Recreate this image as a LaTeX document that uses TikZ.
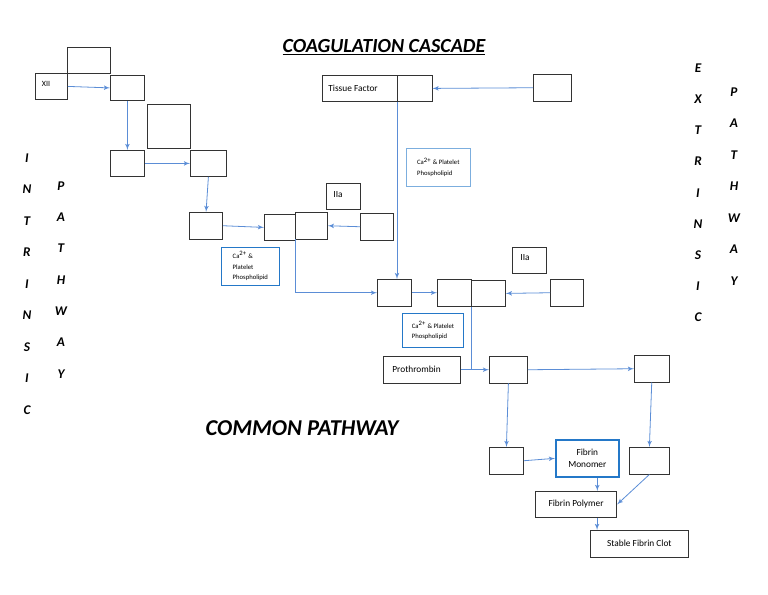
\documentclass[tikz,border=0pt]{standalone}
\usepackage{fontspec}
\setmainfont{Carlito}
\usepackage{tikz}
\usetikzlibrary{arrows,positioning,calc}
\definecolor{linkblue}{RGB}{91,141,214}
\definecolor{boxblue}{RGB}{36,120,200}

\begin{document}
\begin{tikzpicture}[x=0.75pt,y=-0.75pt,
        box/.style={draw=black!80, line width=0.6pt, rectangle, inner sep=0pt},
        ca/.style={draw=boxblue, line width=0.5pt, rectangle, inner sep=2pt, font=\fontsize{5}{8}\selectfont, align=left},
        link/.style={draw=linkblue, line width=0.6pt, -latex'},
        letter/.style={font=\bfseries\itshape\fontsize{10}{10}\selectfont}
    ]
    \useasboundingbox (0,0) rectangle (768,594);
    % title and pathway letters
    \node[font=\bfseries\itshape\fontsize{15}{15}\selectfont] (title) at (384,47) {\underline{COAGULATION CASCADE}};
    \node[font=\bfseries\itshape\fontsize{17}{17}\selectfont] (common) at (302,428) {COMMON PATHWAY};
    \foreach \l [count=\i] in {I,N,T,R,I,N,S,I,C}
        \node[letter] at (27,{158+(\i-1)*31.5}) {\l};
    \foreach \l [count=\i] in {P,A,T,H,W,A,Y}
        \node[letter] at (61,{186+(\i-1)*31.3}) {\l};
    \foreach \l [count=\i] in {E,X,T,R,I,N,S,I,C}
        \node[letter] at (698,{68+(\i-1)*31.2}) {\l};
    \foreach \l [count=\i] in {P,A,T,H,W,A,Y}
        \node[letter] at (734,{92+(\i-1)*31.5}) {\l};
    % intrinsic boxes
    \draw[box] (67,47) rectangle (110,73);
    \node[box, minimum width=24pt, minimum height=19.5pt, anchor=north west] (xii) at (35,73) {};
    \node[font=\fontsize{6}{6}\selectfont] at (46,84) {XII};
    \node[box, minimum width=25.5pt, minimum height=18.75pt, anchor=north west] (f11) at (110,75) {};
    \node[box, minimum width=32pt, minimum height=33pt, anchor=north west] (hk) at (147,104) {};
    \node[box, minimum width=25.5pt, minimum height=19.5pt, anchor=north west] (f9) at (110,150) {};
    \node[box, minimum width=27pt, minimum height=19.5pt, anchor=north west] (f9a) at (190,150) {};
    \node[box, minimum width=25pt, minimum height=20pt, anchor=north west] (f8) at (189,212) {};
    \node[box, minimum width=23pt, minimum height=19.5pt, anchor=north west] (f10i) at (264,214) {};
    \node[box, minimum width=24pt, minimum height=20pt, anchor=north west] (f8a) at (295,212) {};
    \node[box, minimum width=25.5pt, minimum height=19.5pt, anchor=north west] (iia1) at (326,183) {};
    \node[font=\fontsize{7}{7}\selectfont] at (338,195) {IIa};
    \node[box, minimum width=25pt, minimum height=20pt, anchor=north west] (f8b) at (360,213) {};
    \node[ca, anchor=north west, minimum width=43.5pt, minimum height=28.5pt] (ca1) at (221,247) {Ca\textsuperscript{2+} \&\\Platelet\\Phospholipid};
    % extrinsic boxes
    \node[box, minimum width=56pt, minimum height=19.5pt, anchor=north west, font=\fontsize{7}{7}\selectfont] (tf) at (322,75) {\hspace*{-10pt}Tissue Factor};
    \node[box, minimum width=26pt, minimum height=19.5pt, anchor=north west] (f7) at (397,75) {};
    \node[box, minimum width=28.5pt, minimum height=20pt, anchor=north west] (f7b) at (533,74) {};
    \node[ca, anchor=north west, minimum width=48pt, minimum height=28.5pt, draw=boxblue!60] (ca2) at (406,148) {Ca\textsuperscript{2+} \& Platelet\\Phospholipid};
    % common boxes
    \node[box, minimum width=25.5pt, minimum height=20pt, anchor=north west] (f10) at (377,279) {};
    \node[box, minimum width=25.5pt, minimum height=20pt, anchor=north west] (f10a) at (437,279) {};
    \node[box, minimum width=25.5pt, minimum height=19.5pt, anchor=north west] (f5) at (471,280) {};
    \node[box, minimum width=25pt, minimum height=20pt, anchor=north west] (f5b) at (550,279) {};
    \node[box, minimum width=25.5pt, minimum height=19.5pt, anchor=north west] (iia2) at (512,247) {};
    \node[font=\fontsize{7}{7}\selectfont] at (525,258) {IIa};
    \node[ca, anchor=north west, minimum width=45.75pt, minimum height=25.5pt, line width=0.8pt] (ca3) at (402,313) {Ca\textsuperscript{2+} \& Platelet\\Phospholipid};
    \node[box, minimum width=57.75pt, minimum height=20pt, anchor=north west, font=\fontsize{7}{7}\selectfont] (pt) at (383,356) {\hspace*{-8pt}Prothrombin};
    \node[box, minimum width=28.5pt, minimum height=20pt, anchor=north west] (thr) at (489,356) {};
    \node[box, minimum width=26pt, minimum height=20pt, anchor=north west] (f13) at (634,355) {};
    \node[box, minimum width=25.5pt, minimum height=20pt, anchor=north west] (fg) at (489,447) {};
    \node[box, draw=boxblue, line width=1.5pt, minimum width=47pt, minimum height=27.5pt, anchor=north west, font=\fontsize{7}{9}\selectfont, align=center] (mono) at (555,439) {Fibrin\\Monomer};
    \node[box, minimum width=30pt, minimum height=20pt, anchor=north west] (f13a) at (629,447) {};
    \node[box, minimum width=61pt, minimum height=19.5pt, anchor=north west, font=\fontsize{7}{7}\selectfont] (poly) at (535,491) {Fibrin Polymer};
    \node[box, minimum width=73.5pt, minimum height=20pt, anchor=north west, font=\fontsize{7}{7}\selectfont] (clot) at (590,530) {Stable Fibrin Clot};
    % connectors
    \draw[link] (xii.east) -- (f11.west);
    \draw[link] (f11.south) -- (f9.north);
    \draw[link] (f9.east) -- (f9a.west);
    \draw[link] (f9a.south) -- (f8.north);
    \draw[link] (f8.east) -- (f10i.west);
    \draw[link] (f8b.west) -- (f8a.east);
    \draw[link] (f8a.south west) |- (f10.west);
    \draw[link] (f7.south west) -- (f7.south west |- f10.north);
    \draw[link] (f7b.west) -- (f7.east);
    \draw[link] (f10.east) -- (f10a.west);
    \draw[link] (f5b.west) -- (f5.east);
    \draw[draw=linkblue, line width=0.6pt] (f5.south west) -- (f5.south west |- pt.east);
    \draw[link] (pt.east) -- (thr.west);
    \draw[link] (thr.east) -- (f13.west);
    \draw[link] (thr.south) -- (fg.north);
    \draw[link] (f13.south) -- (f13a.north);
    \draw[link] (fg.east) -- (mono.west);
    \coordinate (mb) at ($(mono.south)+(10,0)$);
    \draw[link] (mb) -- (mb |- poly.north);
    \draw[link] (f13a.south) -- (poly.east);
    \coordinate (pb) at ($(poly.south)+(21,0)$);
    \draw[link] (pb) -- (pb |- clot.north);
\end{tikzpicture}
\end{document}
